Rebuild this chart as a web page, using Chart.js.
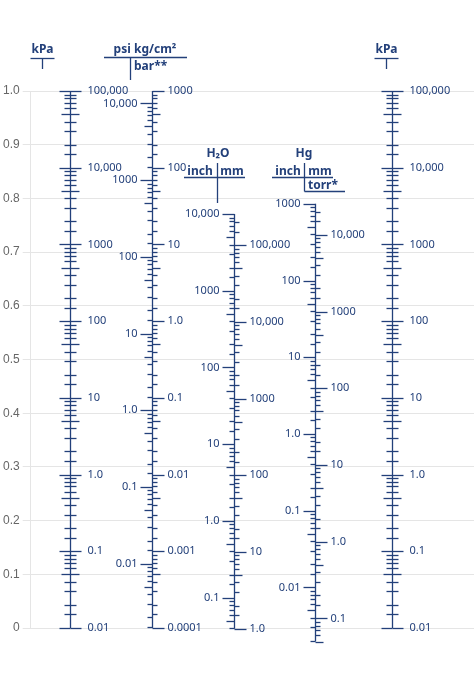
<!DOCTYPE html>
<html><head><meta charset="utf-8">
<script src="https://cdn.jsdelivr.net/npm/chart.js@4"></script>
<style>html,body{margin:0;padding:0;background:#fff}#w{width:474px;height:680px}</style>
</head><body><div id="w"><canvas id="c"></canvas></div>
<script>
// ---- data ----
const kpaRange = [0.01, 100000];
const factors = {kpa:1, psi:0.145038, bar:0.01, inH2O:4.01865, mmH2O:101.972, inHg:0.2953, mmHg:7.50062};
const kpaLabels = [100000,10000,1000,100,10,1,0.1,0.01];
const kpaText = ['100,000','10,000','1000','100','10','1.0','0.1','0.01'];
const psiLabels = [10000,1000,100,10,1,0.1,0.01];
const psiText = ['10,000','1000','100','10','1.0','0.1','0.01'];
const barLabels = [1000,100,10,1,0.1,0.01,0.001,0.0001];
const barText = ['1000','100','10','1.0','0.1','0.01','0.001','0.0001'];
const inH2OLabels = [10000,1000,100,10,1,0.1];
const inH2OText = ['10,000','1000','100','10','1.0','0.1'];
const mmH2OLabels = [100000,10000,1000,100,10,1];
const mmH2OText = ['100,000','10,000','1000','100','10','1.0'];
const inHgLabels = [1000,100,10,1,0.1,0.01];
const inHgText = ['1000','100','10','1.0','0.1','0.01'];
const mmHgLabels = [10000,1000,100,10,1,0.1];
const mmHgText = ['10,000','1000','100','10','1.0','0.1'];
const h2oSpanMm = [1, 254000];     // bottom/top of H2O column in mm
const hgSpanMm = [0.05, 25400];    // bottom/top of Hg column in mm
const tickMults = [1,1.5,2,3,4,5,6,7,8,9];

const COL = '#23407a';
const columns = [
  {x:42, both:'kpa', span:['kpa',kpaRange], labels:[kpaLabels,kpaText], labelSide:'right'},
  {x:130, left:'psi', right:'bar', span:['kpa',kpaRange], leftLabels:[psiLabels,psiText], rightLabels:[barLabels,barText]},
  {x:217, left:'inH2O', right:'mmH2O', span:['mmH2O',h2oSpanMm], leftLabels:[inH2OLabels,inH2OText], rightLabels:[mmH2OLabels,mmH2OText]},
  {x:304, left:'inHg', right:'mmHg', span:['mmHg',hgSpanMm], leftLabels:[inHgLabels,inHgText], rightLabels:[mmHgLabels,mmHgText]},
  {x:386, both:'kpa', span:['kpa',kpaRange], labels:[kpaLabels,kpaText], labelSide:'right'}
];

function genTicks(lo, hi){
  const out=[];
  for(let e=Math.floor(Math.log10(lo))-1;e<=Math.ceil(Math.log10(hi));e++){
    for(const m of tickMults){
      const v=m*Math.pow(10,e);
      if(v>=lo*0.999 && v<=hi*1.001) out.push({v, k: m===1?2:(m===5?1:0)});
    }
  }
  return out;
}

const yScales={};
for(const id in factors){
  yScales[id]={type:'logarithmic',axis:'y',position:'left',display:false,min:kpaRange[0]*factors[id],max:kpaRange[1]*factors[id]};
}

const nomo={id:'nomo',afterDraw(chart){
  const ctx=chart.ctx, X=chart.scales.x;
  ctx.save(); ctx.strokeStyle=COL; ctx.fillStyle=COL; ctx.lineWidth=1.3;
  ctx.font='11px "Noto Sans", "Open Sans", sans-serif'; ctx.textBaseline='middle';
  for(const c of columns){
    const x=Math.round(X.getPixelForValue(c.x))+0.5;
    const sid=c.span[0], sc=chart.scales[sid];
    const lo=c.span[1][0], hi=c.span[1][1];
    const toKpa=v=>v/factors[sid];
    ctx.beginPath(); ctx.moveTo(x,sc.getPixelForValue(hi)); ctx.lineTo(x,sc.getPixelForValue(lo)); ctx.stroke();
    const sides=c.both?[[c.both,-1],[c.both,1]]:[[c.left,-1],[c.right,1]];
    for(const [u,dir] of sides){
      const s=chart.scales[u], f=factors[u];
      const len=c.both?[6,9,11]:[5,8,12];
      for(const t of genTicks(toKpa(lo)*f,toKpa(hi)*f)){
        const y=Math.round(s.getPixelForValue(t.v))+0.5;
        ctx.beginPath(); ctx.moveTo(x,y); ctx.lineTo(x+dir*len[t.k],y); ctx.stroke();
      }
    }
    const lab=(u,arr,dir,off)=>{
      const s=chart.scales[u];
      ctx.textAlign=dir<0?'right':'left';
      arr[0].forEach((v,i)=>{ctx.fillText(arr[1][i], x+dir*off, s.getPixelForValue(v));});
    };
    if(c.both){ lab(c.both,c.labels,1,17); }
    else { lab(c.left,c.leftLabels,-1,15); lab(c.right,c.rightLabels,1,15); }
  }
  // headers
  const hl=(x1,y1,x2,y2)=>{ctx.beginPath();ctx.moveTo(x1,y1);ctx.lineTo(x2,y2);ctx.stroke();};
  ctx.font='bold 12px "Noto Sans", "Open Sans", sans-serif'; ctx.textBaseline='alphabetic'; ctx.textAlign='center';
  for(const kx of [42.5,386.5]){ ctx.fillText('kPa',kx,53); hl(kx-12,58.5,kx+12,58.5); hl(kx,58.5,kx,69); }
  ctx.fillText('psi kg/cm²',145,53); hl(104,57.5,187,57.5); hl(130.5,57.5,130.5,80);
  ctx.textAlign='left'; ctx.fillText('bar**',134,70);
  ctx.textAlign='center';
  ctx.fillText('H₂O',218,157); ctx.fillText('inch',200,175); ctx.fillText('mm',232,175);
  hl(184,177.5,245,177.5); hl(217.5,163,217.5,203);
  ctx.fillText('Hg',304,157); ctx.fillText('inch',288,175); ctx.fillText('mm',320,175);
  hl(272,177.5,333,177.5); hl(304.5,163,304.5,191.5); hl(304.5,191.5,345,191.5);
  ctx.fillText('torr*',323,189);
  ctx.restore();
}};

new Chart(document.getElementById('c'),{
  type:'scatter',
  data:{datasets:[{data:[]}]},
  options:{responsive:true,maintainAspectRatio:false,animation:false,
    layout:{padding:{top:91,bottom:52,left:0,right:0}},
    plugins:{legend:{display:false},tooltip:{enabled:false}},
    scales:Object.assign({x:{type:'linear',display:false,min:0,max:474}},yScales)},
  plugins:[nomo]
});
</script></body></html>
